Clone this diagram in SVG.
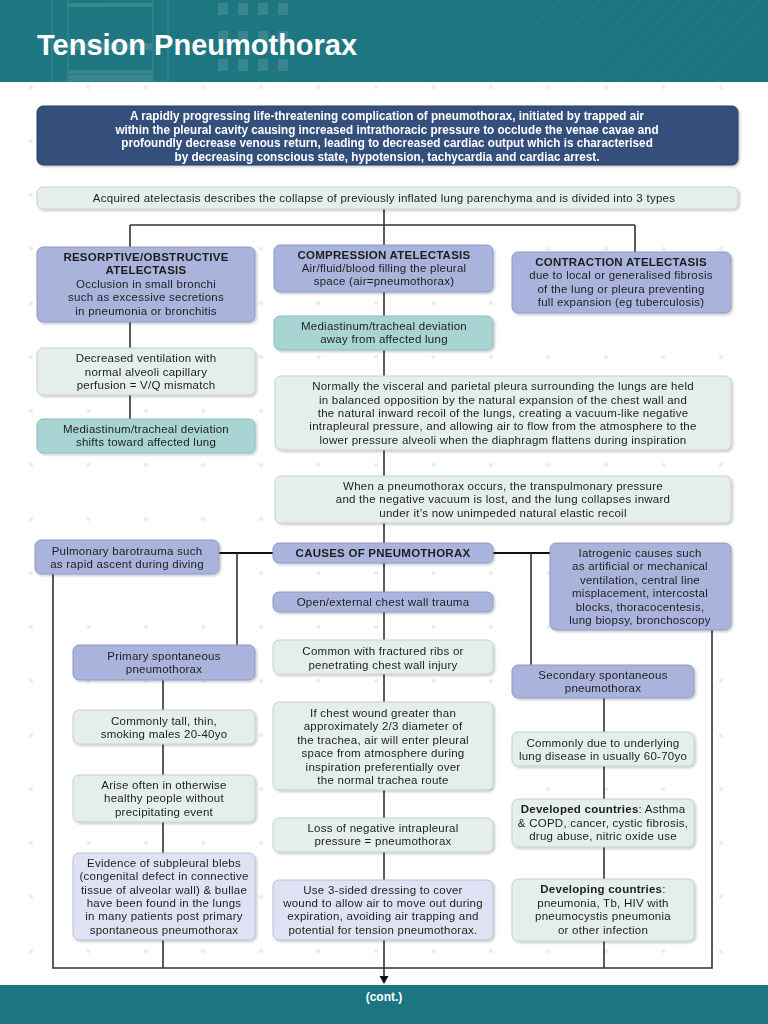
<svg xmlns="http://www.w3.org/2000/svg" width="768" height="1024" viewBox="0 0 768 1024">
<style>
  .t{font-family:"Liberation Sans",Arial,sans-serif;font-size:11.5px;letter-spacing:0.25px;fill:#1e1e1e;text-anchor:middle}
  .b{font-weight:bold}
  .w{font-family:"Liberation Sans",Arial,sans-serif;font-weight:bold;font-size:13px;fill:#ffffff;text-anchor:middle}
  .lav{fill:#aab3dc;stroke:#8f99c9;stroke-width:1}
  .lt{fill:#dfe2f2;stroke:#b9bedd;stroke-width:1}
  .grn{fill:#e4eeea;stroke:#c3d2cc;stroke-width:1}
  .tea{fill:#a8d4d3;stroke:#8bbdbc;stroke-width:1}
  .dk{fill:#34507b;stroke:#2a4166;stroke-width:1}
  .c{stroke:#333;stroke-width:1.6;fill:none}
  .cb{stroke:#111;stroke-width:2.2;fill:none}
</style>
<defs>
  <filter id="sh" x="-5%" y="-10%" width="112%" height="130%">
    <feDropShadow dx="1.5" dy="1.5" stdDeviation="1.2" flood-color="#000" flood-opacity="0.22"/>
  </filter>
  <pattern id="dots" x="2" y="4" width="57.5" height="54" patternUnits="userSpaceOnUse">
    <circle cx="29" cy="29" r="2.2" fill="#e9eff1"/>
  </pattern>
  <linearGradient id="hdr" x1="0" y1="0" x2="1" y2="0">
    <stop offset="0" stop-color="#1f7782"/>
    <stop offset="1" stop-color="#1c7480"/>
  </linearGradient>
</defs>

<rect x="0" y="0" width="768" height="1024" fill="#ffffff"/>
<rect x="0" y="82" width="768" height="903" fill="url(#dots)"/>

<!-- header -->
<g id="header">
  <rect x="0" y="0" width="768" height="82" fill="url(#hdr)"/>
  <g stroke="#ffffff" stroke-opacity="0.16" fill="none">
    <rect x="52" y="-2" width="116" height="84"/>
    <line x1="68" y1="0" x2="68" y2="82"/>
    <line x1="153" y1="0" x2="153" y2="82"/>
  </g>
  <g fill="#ffffff" fill-opacity="0.12">
    <rect x="69" y="3" width="83" height="4"/>
    <rect x="69" y="43" width="83" height="7"/>
    <rect x="69" y="70" width="83" height="4"/>
    <rect x="69" y="75" width="83" height="6"/>
    <rect x="218" y="3" width="10" height="12"/>
    <rect x="238" y="3" width="10" height="12"/>
    <rect x="258" y="3" width="10" height="12"/>
    <rect x="278" y="3" width="10" height="12"/>
    <rect x="218" y="31" width="10" height="12"/>
    <rect x="238" y="31" width="10" height="12"/>
    <rect x="258" y="31" width="10" height="12"/>
    <rect x="278" y="31" width="10" height="12"/>
    <rect x="218" y="59" width="10" height="12"/>
    <rect x="238" y="59" width="10" height="12"/>
    <rect x="258" y="59" width="10" height="12"/>
    <rect x="278" y="59" width="10" height="12"/>
  </g>
  <g stroke="#ffffff" stroke-opacity="0.06" fill="none">
    <path d="M480,82 L560,0 M500,82 L580,0 M520,82 L600,0 M540,82 L620,0 M560,82 L640,0 M580,82 L660,0 M600,82 L680,0 M620,82 L700,0 M640,82 L720,0 M660,82 L740,0 M680,82 L760,0 M700,82 L780,0"/>
  </g>
  <text x="37" y="55" font-family="Liberation Sans,Arial,sans-serif" font-weight="bold" font-size="29" fill="#ffffff">Tension Pneumothorax</text>
</g>

<!-- footer -->
<g id="footer">
  <rect x="0" y="985" width="768" height="39" fill="#1d7581"/>
  <text x="384" y="1001" font-family="Liberation Sans,Arial,sans-serif" font-weight="bold" font-size="12" fill="#ffffff" text-anchor="middle">(cont.)</text>
</g>

<!-- connectors -->
<g id="connectors">
  <path class="c" d="M384,209 V245 M130,225 H635 M130,225 V247 M635,225 V252"/>
  <path class="c" d="M130,322 V348 M130,395 V419"/>
  <path class="c" d="M384,292 V316 M384,350 V376 M384,450 V476 M384,523 V543"/>
  <path class="c" d="M384,563 V592 M384,612 V640 M384,674 V702 M384,790 V818 M384,852 V880"/>
  <path class="cb" d="M219,553 H273 M493,553 H550"/>
  <path class="c" d="M237,553 V645 M531,553 V665"/>
  <path class="c" d="M53,574 V968 H712 V630"/>
  <path class="c" d="M163,680 V710 M163,744 V775 M163,822 V853 M163,940 V968"/>
  <path class="c" d="M604,698 V732 M604,766 V799 M604,847 V879 M604,941 V968"/>
  <path class="c" d="M384,940 V977"/>
  <polygon points="379.5,976 388.5,976 384,984" fill="#111"/>
</g>

<!-- nodes -->
<g id="intro" filter="url(#sh)">
  <rect class="dk" x="37" y="106" width="701" height="59" rx="6"/>
  <g transform="translate(387 0) scale(0.9 1)">
    <text class="w" x="0" y="120">A rapidly progressing life-threatening complication of pneumothorax, initiated by trapped air</text>
    <text class="w" x="0" y="134">within the pleural cavity causing increased intrathoracic pressure to occlude the venae cavae and</text>
    <text class="w" x="0" y="147.5">profoundly decrease venous return, leading to decreased cardiac output which is characterised</text>
    <text class="w" x="0" y="161">by decreasing conscious state, hypotension, tachycardia and cardiac arrest.</text>
  </g>
</g>

<g id="acquired" filter="url(#sh)">
  <rect class="grn" x="37" y="187" width="701" height="22" rx="6"/>
  <text class="t" x="384" y="202">Acquired atelectasis describes the collapse of previously inflated lung parenchyma and is divided into 3 types</text>
</g>

<g id="resorptive" filter="url(#sh)">
  <rect class="lav" x="37" y="247" width="218" height="75" rx="6"/>
  <text class="t b" x="146" y="261">RESORPTIVE/OBSTRUCTIVE</text>
  <text class="t b" x="146" y="274">ATELECTASIS</text>
  <text class="t" x="146" y="288">Occlusion in small bronchi</text>
  <text class="t" x="146" y="301">such as excessive secretions</text>
  <text class="t" x="146" y="315">in pneumonia or bronchitis</text>
</g>

<g id="compression" filter="url(#sh)">
  <rect class="lav" x="274" y="245" width="219" height="47" rx="6"/>
  <text class="t b" x="384" y="259">COMPRESSION ATELECTASIS</text>
  <text class="t" x="384" y="272">Air/fluid/blood filling the pleural</text>
  <text class="t" x="384" y="285">space (air=pneumothorax)</text>
</g>

<g id="contraction" filter="url(#sh)">
  <rect class="lav" x="512" y="252" width="219" height="61" rx="6"/>
  <text class="t b" x="621" y="266">CONTRACTION ATELECTASIS</text>
  <text class="t" x="621" y="279">due to local or generalised fibrosis</text>
  <text class="t" x="621" y="293">of the lung or pleura preventing</text>
  <text class="t" x="621" y="306">full expansion (eg tuberculosis)</text>
</g>

<g id="decreased" filter="url(#sh)">
  <rect class="grn" x="37" y="348" width="218" height="47" rx="6"/>
  <text class="t" x="146" y="362">Decreased ventilation with</text>
  <text class="t" x="146" y="376">normal alveoli capillary</text>
  <text class="t" x="146" y="389">perfusion = V/Q mismatch</text>
</g>

<g id="mediastinum-toward" filter="url(#sh)">
  <rect class="tea" x="37" y="419" width="218" height="34" rx="6"/>
  <text class="t" x="146" y="433">Mediastinum/tracheal deviation</text>
  <text class="t" x="146" y="446">shifts toward affected lung</text>
</g>

<g id="mediastinum-away" filter="url(#sh)">
  <rect class="tea" x="274" y="316" width="219" height="34" rx="6"/>
  <text class="t" x="384" y="330">Mediastinum/tracheal deviation</text>
  <text class="t" x="384" y="343">away from affected lung</text>
</g>

<g id="normally" filter="url(#sh)">
  <rect class="grn" x="275" y="376" width="456" height="74" rx="6"/>
  <text class="t" x="503" y="390">Normally the visceral and parietal pleura surrounding the lungs are held</text>
  <text class="t" x="503" y="404">in balanced opposition by the natural expansion of the chest wall and</text>
  <text class="t" x="503" y="417">the natural inward recoil of the lungs, creating a vacuum-like negative</text>
  <text class="t" x="503" y="430">intrapleural pressure, and allowing air to flow from the atmosphere to the</text>
  <text class="t" x="503" y="444">lower pressure alveoli when the diaphragm flattens during inspiration</text>
</g>

<g id="when" filter="url(#sh)">
  <rect class="grn" x="275" y="476" width="456" height="47" rx="6"/>
  <text class="t" x="503" y="490">When a pneumothorax occurs, the transpulmonary pressure</text>
  <text class="t" x="503" y="503">and the negative vacuum is lost, and the lung collapses inward</text>
  <text class="t" x="503" y="517">under it’s now unimpeded natural elastic recoil</text>
</g>

<g id="pulmonary" filter="url(#sh)">
  <rect class="lav" x="35" y="540" width="184" height="34" rx="6"/>
  <text class="t" x="127" y="555">Pulmonary barotrauma such</text>
  <text class="t" x="127" y="568">as rapid ascent during diving</text>
</g>

<g id="causes" filter="url(#sh)">
  <rect class="lav" x="273" y="543" width="220" height="20" rx="6"/>
  <text class="t b" x="383" y="557">CAUSES OF PNEUMOTHORAX</text>
</g>

<g id="iatrogenic" filter="url(#sh)">
  <rect class="lav" x="550" y="543" width="181" height="87" rx="6"/>
  <text class="t" x="640" y="557">Iatrogenic causes such</text>
  <text class="t" x="640" y="570">as artificial or mechanical</text>
  <text class="t" x="640" y="584">ventilation, central line</text>
  <text class="t" x="640" y="597">misplacement, intercostal</text>
  <text class="t" x="640" y="611">blocks, thoracocentesis,</text>
  <text class="t" x="640" y="624">lung biopsy, bronchoscopy</text>
</g>

<g id="open" filter="url(#sh)">
  <rect class="lav" x="273" y="592" width="220" height="20" rx="6"/>
  <text class="t" x="383" y="606">Open/external chest wall trauma</text>
</g>

<g id="fractured" filter="url(#sh)">
  <rect class="grn" x="273" y="640" width="220" height="34" rx="6"/>
  <text class="t" x="383" y="655">Common with fractured ribs or</text>
  <text class="t" x="383" y="669">penetrating chest wall injury</text>
</g>

<g id="primary" filter="url(#sh)">
  <rect class="lav" x="73" y="645" width="182" height="35" rx="6"/>
  <text class="t" x="164" y="660">Primary spontaneous</text>
  <text class="t" x="164" y="673">pneumothorax</text>
</g>

<g id="secondary" filter="url(#sh)">
  <rect class="lav" x="512" y="665" width="182" height="33" rx="6"/>
  <text class="t" x="603" y="679">Secondary spontaneous</text>
  <text class="t" x="603" y="692">pneumothorax</text>
</g>

<g id="tall" filter="url(#sh)">
  <rect class="grn" x="73" y="710" width="182" height="34" rx="6"/>
  <text class="t" x="164" y="725">Commonly tall, thin,</text>
  <text class="t" x="164" y="738">smoking males 20-40yo</text>
</g>

<g id="chestwound" filter="url(#sh)">
  <rect class="grn" x="273" y="702" width="220" height="88" rx="6"/>
  <text class="t" x="383" y="717">If chest wound greater than</text>
  <text class="t" x="383" y="730">approximately 2/3 diameter of</text>
  <text class="t" x="383" y="744">the trachea, air will enter pleural</text>
  <text class="t" x="383" y="757">space from atmosphere during</text>
  <text class="t" x="383" y="771">inspiration preferentially over</text>
  <text class="t" x="383" y="784">the normal trachea route</text>
</g>

<g id="underlying" filter="url(#sh)">
  <rect class="grn" x="512" y="732" width="182" height="34" rx="6"/>
  <text class="t" x="603" y="747">Commonly due to underlying</text>
  <text class="t" x="603" y="760">lung disease in usually 60-70yo</text>
</g>

<g id="arise" filter="url(#sh)">
  <rect class="grn" x="73" y="775" width="182" height="47" rx="6"/>
  <text class="t" x="164" y="789">Arise often in otherwise</text>
  <text class="t" x="164" y="802">healthy people without</text>
  <text class="t" x="164" y="816">precipitating event</text>
</g>

<g id="developed" filter="url(#sh)">
  <rect class="grn" x="512" y="799" width="182" height="48" rx="6"/>
  <text class="t" x="603" y="813"><tspan font-weight="bold">Developed countries</tspan>: Asthma</text>
  <text class="t" x="603" y="827">&amp; COPD, cancer, cystic fibrosis,</text>
  <text class="t" x="603" y="840">drug abuse, nitric oxide use</text>
</g>

<g id="loss" filter="url(#sh)">
  <rect class="grn" x="273" y="818" width="220" height="34" rx="6"/>
  <text class="t" x="383" y="832">Loss of negative intrapleural</text>
  <text class="t" x="383" y="845">pressure = pneumothorax</text>
</g>

<g id="evidence" filter="url(#sh)">
  <rect class="lt" x="73" y="853" width="182" height="87" rx="6"/>
  <text class="t" x="164" y="867">Evidence of subpleural blebs</text>
  <text class="t" x="164" y="880">(congenital defect in connective</text>
  <text class="t" x="164" y="894">tissue of alveolar wall) &amp; bullae</text>
  <text class="t" x="164" y="907">have been found in the lungs</text>
  <text class="t" x="164" y="920">in many patients post primary</text>
  <text class="t" x="164" y="934">spontaneous pneumothorax</text>
</g>

<g id="dressing" filter="url(#sh)">
  <rect class="lt" x="273" y="880" width="220" height="60" rx="6"/>
  <text class="t" x="383" y="894">Use 3-sided dressing to cover</text>
  <text class="t" x="383" y="907">wound to allow air to move out during</text>
  <text class="t" x="383" y="920">expiration, avoiding air trapping and</text>
  <text class="t" x="383" y="934">potential for tension pneumothorax.</text>
</g>

<g id="developing" filter="url(#sh)">
  <rect class="grn" x="512" y="879" width="182" height="62" rx="6"/>
  <text class="t" x="603" y="893"><tspan font-weight="bold">Developing countries</tspan>:</text>
  <text class="t" x="603" y="907">pneumonia, Tb, HIV with</text>
  <text class="t" x="603" y="920">pneumocystis pneumonia</text>
  <text class="t" x="603" y="934">or other infection</text>
</g>
</svg>
